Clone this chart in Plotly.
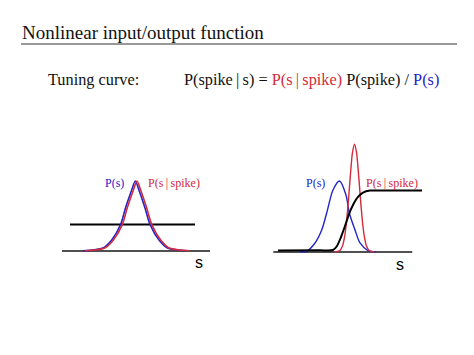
import plotly.graph_objects as go

W, H = 474, 355

# ---------------- data ----------------
# Left panel: stimulus s in arbitrary units, probability density (peak ~1)
left_ps_x = [-5.23, -3.23, -2.36, -1.46, -0.98, -0.36, 0.0, 0.36, 0.97, 1.47, 2.37, 3.22, 5.27]
left_ps_y = [0.003, 0.043, 0.157, 0.381, 0.614, 0.871, 1.0, 0.871, 0.614, 0.381, 0.157, 0.043, 0.003]
left_pss_x = [-5.06, -3.06, -2.19, -1.29, -0.81, -0.19, 0.17, 0.53, 1.14, 1.64, 2.54, 3.39, 5.44]
left_pss_y = [0.003, 0.043, 0.157, 0.381, 0.614, 0.871, 1.0, 0.871, 0.614, 0.381, 0.157, 0.043, 0.003]
left_tuning_x = [-6.53, 5.97]
left_tuning_y = [0.379, 0.379]
left_base_x = [-7.33, 7.47]
left_base_y = [0.0, 0.0]

# Right panel
right_ps_x = [-3.93, -3.23, -2.43, -1.76, -1.26, -0.63, 0.02, 0.67, 1.0, 1.57, 2.07, 2.87, 3.67]
right_ps_y = [0.003, 0.014, 0.127, 0.31, 0.549, 0.873, 1.0, 0.803, 0.549, 0.31, 0.127, 0.021, 0.003]
right_pss_x = [-0.48, 0.02, 0.32, 0.52, 0.72, 0.92, 1.12, 1.32, 1.52, 1.72, 1.92, 2.12, 2.32, 2.52, 2.72, 3.02, 3.52]
right_pss_y = [0.0, 0.017, 0.085, 0.206, 0.423, 0.74, 1.104, 1.403, 1.52, 1.403, 1.104, 0.74, 0.423, 0.206, 0.085, 0.017, 0.0]
right_tuning_x = [-6.13, -1.93, -0.63, -0.23, 0.17, 0.57, 0.97, 1.37, 1.87, 2.37, 3.07, 4.07, 8.27]
right_tuning_y = [0.021, 0.024, 0.028, 0.085, 0.211, 0.366, 0.535, 0.662, 0.775, 0.838, 0.866, 0.866, 0.866]
right_base_x = [-6.6, 7.3]
right_base_y = [0.0, 0.0]

TS = "\u2009"
title_text = "Nonlinear input/output function"
subtitle_text = "Tuning curve:"
label_ps = "P(s)"
label_pss = "P(s" + TS + "|" + TS + "spike)"
label_s = "s"

BLUE = "#2424c8"
RED = "#d42a3a"
BLACK = "#000000"
GRAY = "#505050"
SERIF = "Liberation Serif, Times New Roman, serif"
SANS = "Liberation Sans, Arial, sans-serif"


def px_dom_x(a, b):
    return [a / W, b / W]


def px_dom_y(bottom, top):
    return [1 - bottom / H, 1 - top / H]


fig = go.Figure()

# left panel (axes x, y)
fig.add_trace(go.Scatter(x=left_base_x, y=left_base_y, mode="lines",
                         line=dict(color=GRAY, width=2.2), xaxis="x", yaxis="y"))
fig.add_trace(go.Scatter(x=left_tuning_x, y=left_tuning_y, mode="lines",
                         line=dict(color=BLACK, width=2), xaxis="x", yaxis="y"))
fig.add_trace(go.Scatter(x=left_ps_x, y=left_ps_y, mode="lines",
                         line=dict(color=BLUE, width=1.6, shape="spline", smoothing=0.8),
                         xaxis="x", yaxis="y"))
fig.add_trace(go.Scatter(x=left_pss_x, y=left_pss_y, mode="lines",
                         line=dict(color=RED, width=1.6, shape="spline", smoothing=0.8),
                         xaxis="x", yaxis="y"))

# right panel (axes x2, y2)
fig.add_trace(go.Scatter(x=right_base_x, y=right_base_y, mode="lines",
                         line=dict(color=GRAY, width=2.2), xaxis="x2", yaxis="y2"))
fig.add_trace(go.Scatter(x=right_ps_x, y=right_ps_y, mode="lines",
                         line=dict(color=BLUE, width=1.4, shape="spline", smoothing=0.8),
                         xaxis="x2", yaxis="y2"))
fig.add_trace(go.Scatter(x=right_pss_x, y=right_pss_y, mode="lines",
                         line=dict(color=RED, width=1.4, shape="spline", smoothing=0.8),
                         xaxis="x2", yaxis="y2"))
fig.add_trace(go.Scatter(x=right_tuning_x, y=right_tuning_y, mode="lines",
                         line=dict(color=BLACK, width=2, shape="spline", smoothing=0.7),
                         xaxis="x2", yaxis="y2"))

hidden = dict(visible=False, showgrid=False, zeroline=False, fixedrange=True)

fig.update_layout(
    width=W, height=H, autosize=False,
    margin=dict(l=0, r=0, t=0, b=0),
    paper_bgcolor="white", plot_bgcolor="white",
    showlegend=False,
    xaxis=dict(domain=px_dom_x(50, 215), range=[-8.53, 7.97], **hidden),
    yaxis=dict(domain=px_dom_y(275, 125), range=[-0.343, 1.8], **hidden),
    xaxis2=dict(domain=px_dom_x(265, 430), range=[-7.43, 9.07], anchor="y2", **hidden),
    yaxis2=dict(domain=px_dom_y(275, 125), range=[-0.324, 1.789], anchor="x2", **hidden),
)

ann = []
# slide title and rule
ann.append(dict(text=title_text, xref="paper", yref="paper", x=20 / W, y=1 - 33 / H,
                xanchor="left", yanchor="middle", showarrow=False,
                font=dict(family=SERIF, size=19, color="#111111")))
ann.append(dict(text=subtitle_text, xref="paper", yref="paper", x=46 / W, y=1 - 79 / H,
                xanchor="left", yanchor="middle", showarrow=False,
                font=dict(family=SERIF, size=16.3, color="#111111")))
ann.append(dict(text=("P(spike" + TS + "|" + TS + "s) = <span style='color:" + RED + "'>P(s"
                      + TS + "|" + TS + "spike)</span> "
                      "P(spike) / <span style='color:" + BLUE + "'>P(s)</span>"),
                xref="paper", yref="paper", x=182 / W, y=1 - 79 / H,
                xanchor="left", yanchor="middle", showarrow=False,
                font=dict(family=SERIF, size=16.3, color="#111111")))

# left panel labels
ann.append(dict(text=label_ps, xref="x", yref="y", x=-2.13, y=0.97, showarrow=False,
                xanchor="center", yanchor="middle", font=dict(family=SERIF, size=12, color=BLUE)))
ann.append(dict(text=label_pss, xref="x", yref="y", x=3.87, y=0.97, showarrow=False,
                xanchor="center", yanchor="middle", font=dict(family=SERIF, size=12, color=RED)))
ann.append(dict(text=label_s, xref="x", yref="y", x=6.37, y=-0.17, showarrow=False,
                xanchor="center", yanchor="middle", font=dict(family=SANS, size=16, color=BLACK)))
# right panel labels
ann.append(dict(text=label_ps, xref="x2", yref="y2", x=-2.43, y=0.97, showarrow=False,
                xanchor="center", yanchor="middle", font=dict(family=SERIF, size=12, color=BLUE)))
ann.append(dict(text=label_pss, xref="x2", yref="y2", x=5.27, y=0.97, showarrow=False,
                xanchor="center", yanchor="middle", font=dict(family=SERIF, size=12, color=RED)))
ann.append(dict(text=label_s, xref="x2", yref="y2", x=6.07, y=-0.18, showarrow=False,
                xanchor="center", yanchor="middle", font=dict(family=SANS, size=16, color=BLACK)))

fig.update_layout(annotations=ann)
fig.add_shape(type="line", xref="paper", yref="paper", x0=21 / W, x1=457 / W,
              y0=1 - 44 / H, y1=1 - 44 / H, line=dict(color="#333333", width=1))

fig.write_html("out.html", config={"displayModeBar": False},
               post_script="document.body.style.margin='0';document.body.style.overflow='hidden';")
